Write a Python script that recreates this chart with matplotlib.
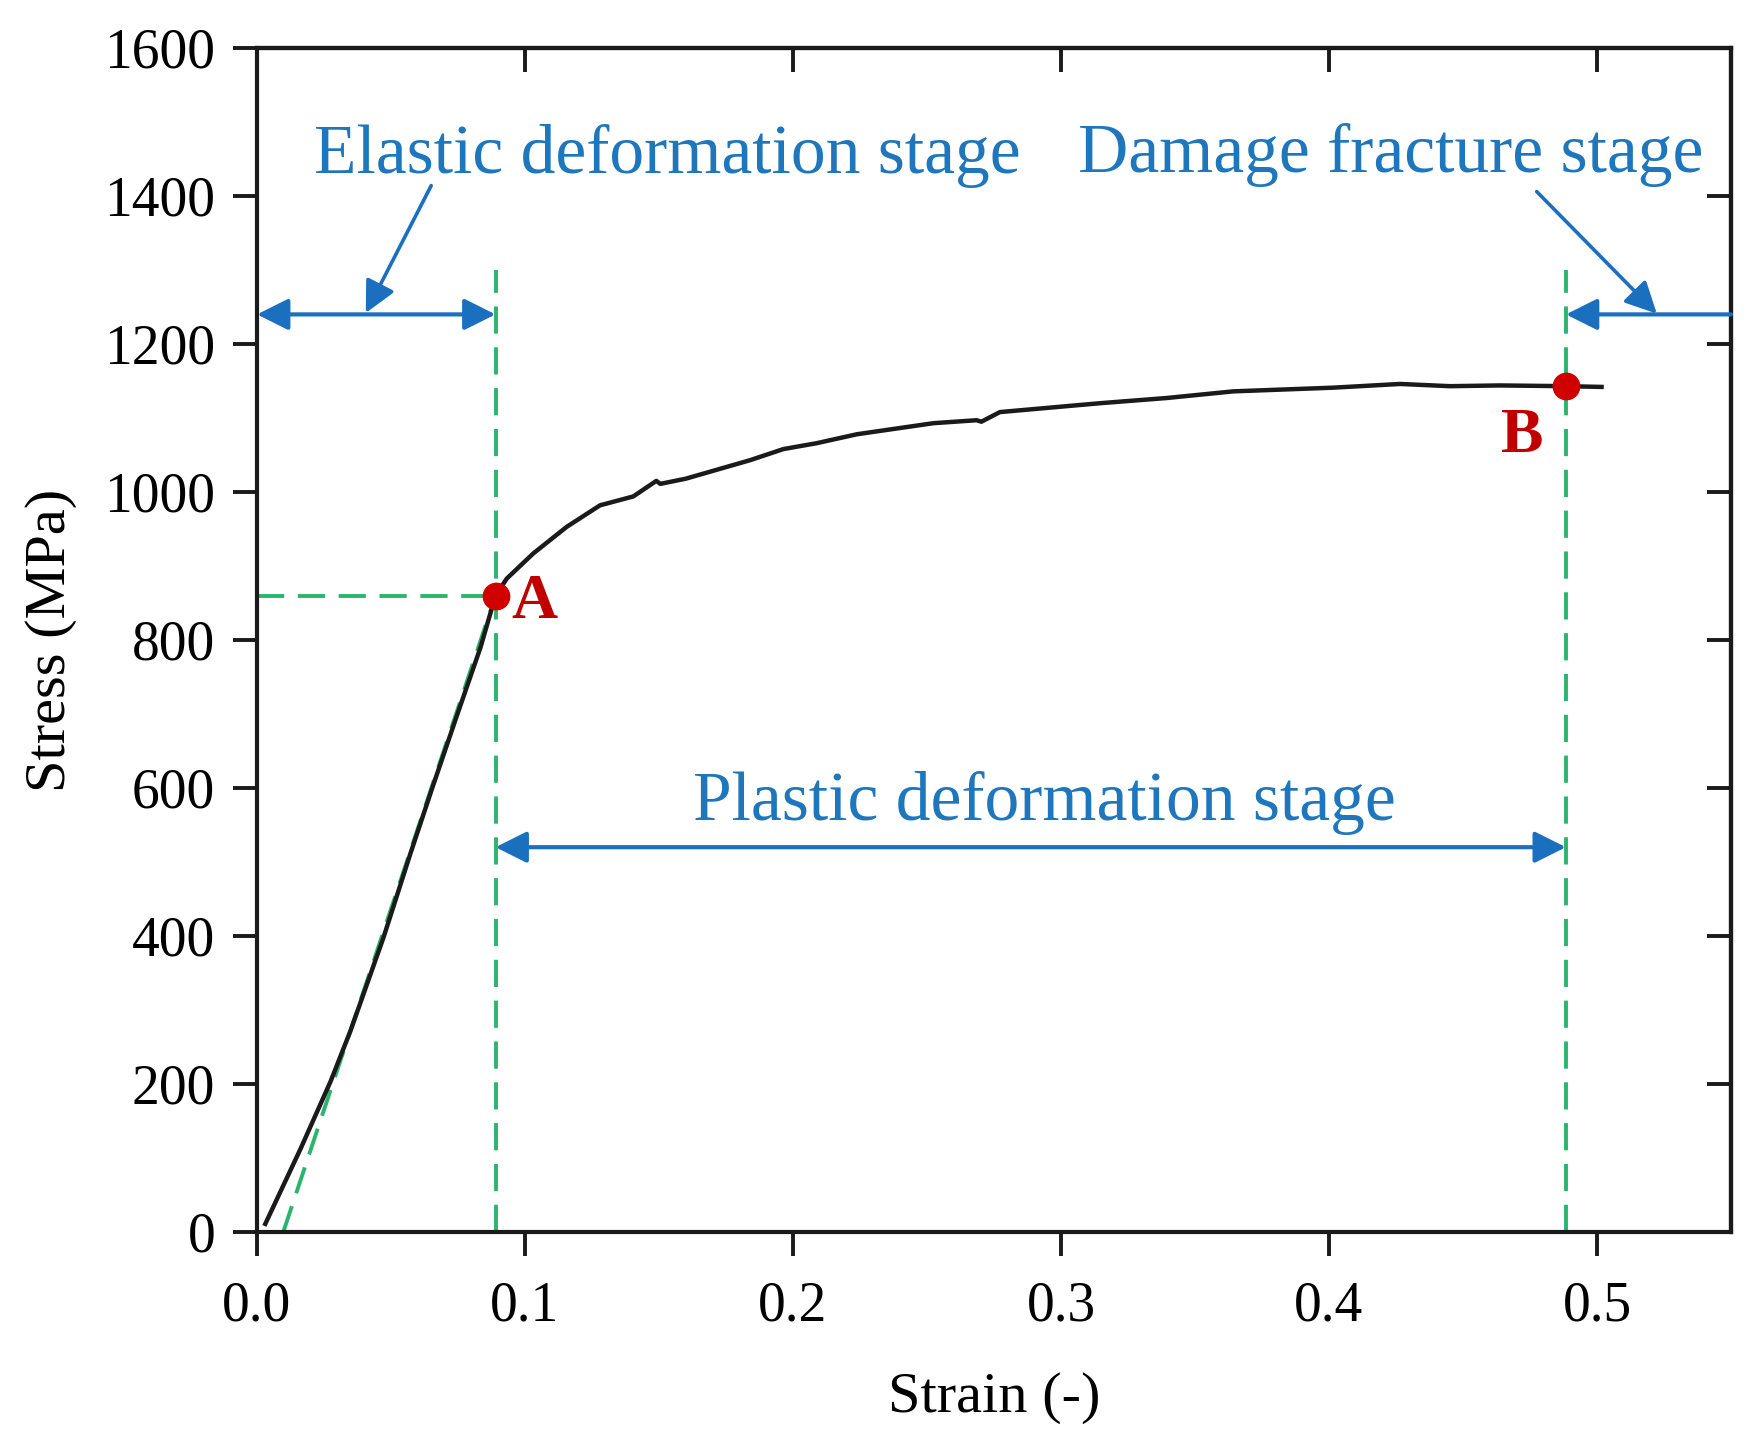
import numpy as np
import matplotlib
matplotlib.use('Agg')
import matplotlib.pyplot as plt
from matplotlib.ticker import NullFormatter, FormatStrFormatter

plt.rcParams['font.family'] = ['Liberation Serif', 'DejaVu Serif']

# stress-strain curve
strain = [0.0031, 0.0162, 0.0274, 0.0349, 0.0473, 0.0573, 0.0653, 0.0747, 0.0834, 0.089,
          0.0932, 0.1031, 0.1156, 0.128, 0.1404, 0.149, 0.1505, 0.16, 0.1715, 0.184,
          0.1964, 0.2089, 0.2238, 0.2524, 0.2685, 0.2703, 0.2772, 0.3146, 0.3394, 0.3643,
          0.4016, 0.4265, 0.4451, 0.4638, 0.4884, 0.5017]
stress = [11, 112, 203, 272, 399, 512, 599, 699, 790, 860,
          883, 917, 953, 982, 994, 1015, 1011, 1018, 1030, 1043,
          1058, 1066, 1078, 1093, 1097, 1095, 1108, 1120, 1127, 1136,
          1141, 1146, 1143, 1144, 1143, 1142]

point_a = (0.089, 860)
point_b = (0.4884, 1143)
elastic_fit_x = [0.0098, 0.089]
elastic_fit_y = [0, 860]
guide_top = 1300

xticks = [0.0, 0.1, 0.2, 0.3, 0.4, 0.5]
yticks = [0, 200, 400, 600, 800, 1000, 1200, 1400, 1600]

blue = '#1e76bd'
arrow_blue = '#1a6fbf'
green = '#2bb56c'
red = '#d00000'

fig = plt.figure(figsize=(17.56, 14.5), dpi=100)
ax = fig.add_axes([257/1756, 1-1232/1450, 1474/1756, 1184/1450])

dash = (0, (7, 3.5))
ax.plot(elastic_fit_x, elastic_fit_y, color=green, lw=2.8, ls=dash, zorder=2)
ax.plot([0, point_a[0]], [point_a[1], point_a[1]], color=green, lw=2.8, ls=dash, zorder=2)
ax.plot([point_a[0], point_a[0]], [0, guide_top], color=green, lw=2.8, ls=dash, zorder=2)
ax.plot([point_b[0], point_b[0]], [0, guide_top], color=green, lw=2.8, ls=dash, zorder=2)

ax.plot(strain, stress, color='#1a1a1a', lw=3.2, zorder=3, solid_joinstyle='round')
ax.plot(*point_a, 'o', color=red, ms=19, zorder=4)
ax.plot(*point_b, 'o', color=red, ms=19, zorder=4)
ax.text(0.1037, 850, 'A', color='#c00000', fontsize=46, fontweight='bold', ha='center', va='center')
ax.text(0.472, 1074, 'B', color='#c00000', fontsize=46, fontweight='bold', ha='center', va='center')

arr = dict(arrowstyle='<|-|>,head_length=0.4,head_width=0.2', color=arrow_blue, lw=3.0,
           mutation_scale=48, shrinkA=0, shrinkB=0)
one = dict(arrowstyle='-|>,head_length=0.4,head_width=0.2', color=arrow_blue, lw=2.6,
           mutation_scale=48, shrinkA=0, shrinkB=0)

# elastic stage
ax.annotate('', xy=(point_a[0], 1240), xytext=(0.0, 1240), arrowprops=arr)
ax.annotate('', xy=(0.0406, 1242), xytext=(0.065, 1414), arrowprops=one)
ax.text(0.0213, 1431, 'Elastic deformation stage', color=blue, fontsize=50, ha='left', va='baseline')

# plastic stage
ax.annotate('', xy=(point_b[0], 520), xytext=(point_a[0], 520), arrowprops=arr)
ax.text(0.1627, 557, 'Plastic deformation stage', color=blue, fontsize=50, ha='left', va='baseline')

# damage stage
ax.annotate('', xy=(point_b[0], 1240), xytext=(0.55, 1240),
            arrowprops=dict(one, lw=3.0))
ax.annotate('', xy=(0.5223, 1241), xytext=(0.4775, 1406), arrowprops=one)
ax.text(0.5396, 1433, 'Damage fracture stage', color=blue, fontsize=50, ha='right', va='baseline')

ax.set_xlim(0, 0.55)
ax.set_ylim(0, 1600)
ax.set_xticks(xticks)
ax.set_yticks(yticks)
ax.xaxis.set_major_formatter(FormatStrFormatter('%.1f'))
ax.tick_params(direction='out', length=17, width=2.8, labelsize=40, color='#1a1a1a')
ax.tick_params(axis='x', pad=18)
ax.tick_params(axis='y', pad=13)
for s in ax.spines.values():
    s.set_linewidth(3.0)
    s.set_color('#1a1a1a')

top = ax.secondary_xaxis('top')
top.set_xticks(xticks)
top.xaxis.set_major_formatter(NullFormatter())
top.tick_params(direction='in', length=17, width=2.8, color='#1a1a1a')
top.spines['top'].set_linewidth(3.0)
right = ax.secondary_yaxis('right')
right.set_yticks(yticks)
right.yaxis.set_major_formatter(NullFormatter())
right.tick_params(direction='in', length=17, width=2.8, color='#1a1a1a')
right.spines['right'].set_linewidth(3.0)

ax.set_xlabel('Strain (-)', fontsize=42)
ax.xaxis.set_label_coords(0.5, -0.118)
ax.set_ylabel('Stress (MPa)', fontsize=42)
ax.yaxis.set_label_coords(-0.122, 0.5)

fig.savefig('out.png', dpi=100)
